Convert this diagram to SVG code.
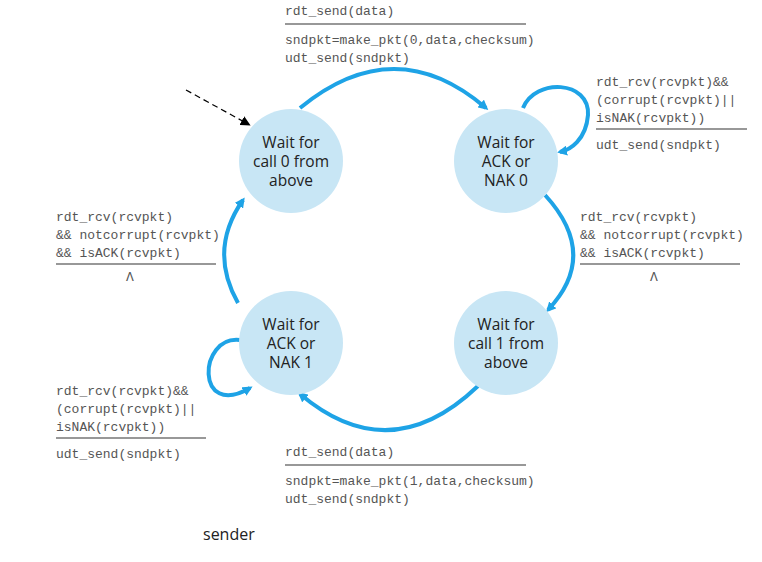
<svg xmlns="http://www.w3.org/2000/svg" width="762" height="562" viewBox="0 0 762 562">
<defs>
<marker id="ah" markerWidth="10" markerHeight="10" refX="7" refY="5" orient="auto" markerUnits="userSpaceOnUse"><path d="M0,0 L10,5 L0,10 z" fill="#1ea3e6"/></marker>
<marker id="ak" markerWidth="10" markerHeight="10" refX="7" refY="5" orient="auto" markerUnits="userSpaceOnUse"><path d="M0,0 L10,5 L0,10 z" fill="#000"/></marker>
<style>
.n{fill:#c8e6f5}
.nt{font-family:"Open Sans","Liberation Sans",sans-serif;font-size:15.5px;fill:#222;text-anchor:middle}
.m{font-family:"Liberation Mono",monospace;font-size:13px;fill:#555}
.c{fill:none;stroke:#1ea3e6;stroke-width:4;marker-end:url(#ah)}
.r{stroke:#333;stroke-width:1.2}
</style>
</defs>
<rect width="762" height="562" fill="#fff"/>
<g id="connectors">
<path class="c" d="M300,108 Q395,30 486,108"/>
<path class="c" d="M545,195 Q600,255 548,310"/>
<path class="c" d="M478,386 Q390,470 300,394"/>
<path class="c" d="M238,303 Q208,250 243,200"/>
<path class="c" d="M523,108 C535,78 590,80 588,115 C586,140 570,150 560,152"/>
<path class="c" d="M240,340 C198,335 195,420 250,388"/>
<path d="M186,90 L248,124" stroke="#000" stroke-width="1.2" stroke-dasharray="6,4" fill="none" marker-end="url(#ak)"/>
</g>
<g id="s0"><circle class="n" cx="291" cy="161" r="52"/><text class="nt" x="291" y="148">Wait for</text><text class="nt" x="291" y="167">call 0 from</text><text class="nt" x="291" y="186">above</text></g>
<g id="s1"><circle class="n" cx="506" cy="161" r="52"/><text class="nt" x="506" y="148">Wait for</text><text class="nt" x="506" y="167">ACK or</text><text class="nt" x="506" y="186">NAK 0</text></g>
<g id="s2"><circle class="n" cx="506" cy="343" r="52"/><text class="nt" x="506" y="330">Wait for</text><text class="nt" x="506" y="349">call 1 from</text><text class="nt" x="506" y="368">above</text></g>
<g id="s3"><circle class="n" cx="291" cy="343" r="52"/><text class="nt" x="291" y="330">Wait for</text><text class="nt" x="291" y="349">ACK or</text><text class="nt" x="291" y="368">NAK 1</text></g>
<g id="labels">
<text class="m" x="285" y="15">rdt_send(data)</text><line class="r" x1="285" y1="24" x2="526" y2="24"/>
<text class="m" x="285" y="44">sndpkt=make_pkt(0,data,checksum)</text><text class="m" x="285" y="62">udt_send(sndpkt)</text>
<text class="m" x="596" y="86">rdt_rcv(rcvpkt)&amp;&amp;</text><text class="m" x="596" y="104">(corrupt(rcvpkt)||</text><text class="m" x="596" y="122">isNAK(rcvpkt))</text><line class="r" x1="596" y1="129" x2="747" y2="129"/><text class="m" x="596" y="149">udt_send(sndpkt)</text>
<text class="m" x="580" y="221">rdt_rcv(rcvpkt)</text><text class="m" x="580" y="239">&amp;&amp; notcorrupt(rcvpkt)</text><text class="m" x="580" y="257">&amp;&amp; isACK(rcvpkt)</text><line class="r" x1="580" y1="264" x2="740" y2="264"/><text class="m" x="650" y="281">Λ</text>
<text class="m" x="56" y="221">rdt_rcv(rcvpkt)</text><text class="m" x="56" y="239">&amp;&amp; notcorrupt(rcvpkt)</text><text class="m" x="56" y="257">&amp;&amp; isACK(rcvpkt)</text><line class="r" x1="56" y1="264" x2="216" y2="264"/><text class="m" x="126" y="281">Λ</text>
<text class="m" x="56" y="395">rdt_rcv(rcvpkt)&amp;&amp;</text><text class="m" x="56" y="413">(corrupt(rcvpkt)||</text><text class="m" x="56" y="431">isNAK(rcvpkt))</text><line class="r" x1="56" y1="438" x2="206" y2="438"/><text class="m" x="56" y="458">udt_send(sndpkt)</text>
<text class="m" x="285" y="456">rdt_send(data)</text><line class="r" x1="285" y1="465" x2="526" y2="465"/>
<text class="m" x="285" y="485">sndpkt=make_pkt(1,data,checksum)</text><text class="m" x="285" y="503">udt_send(sndpkt)</text>
<text x="203" y="540" style="font-family:'Open Sans','Liberation Sans',sans-serif;font-size:16px;fill:#222">sender</text>
</g>
</svg>
